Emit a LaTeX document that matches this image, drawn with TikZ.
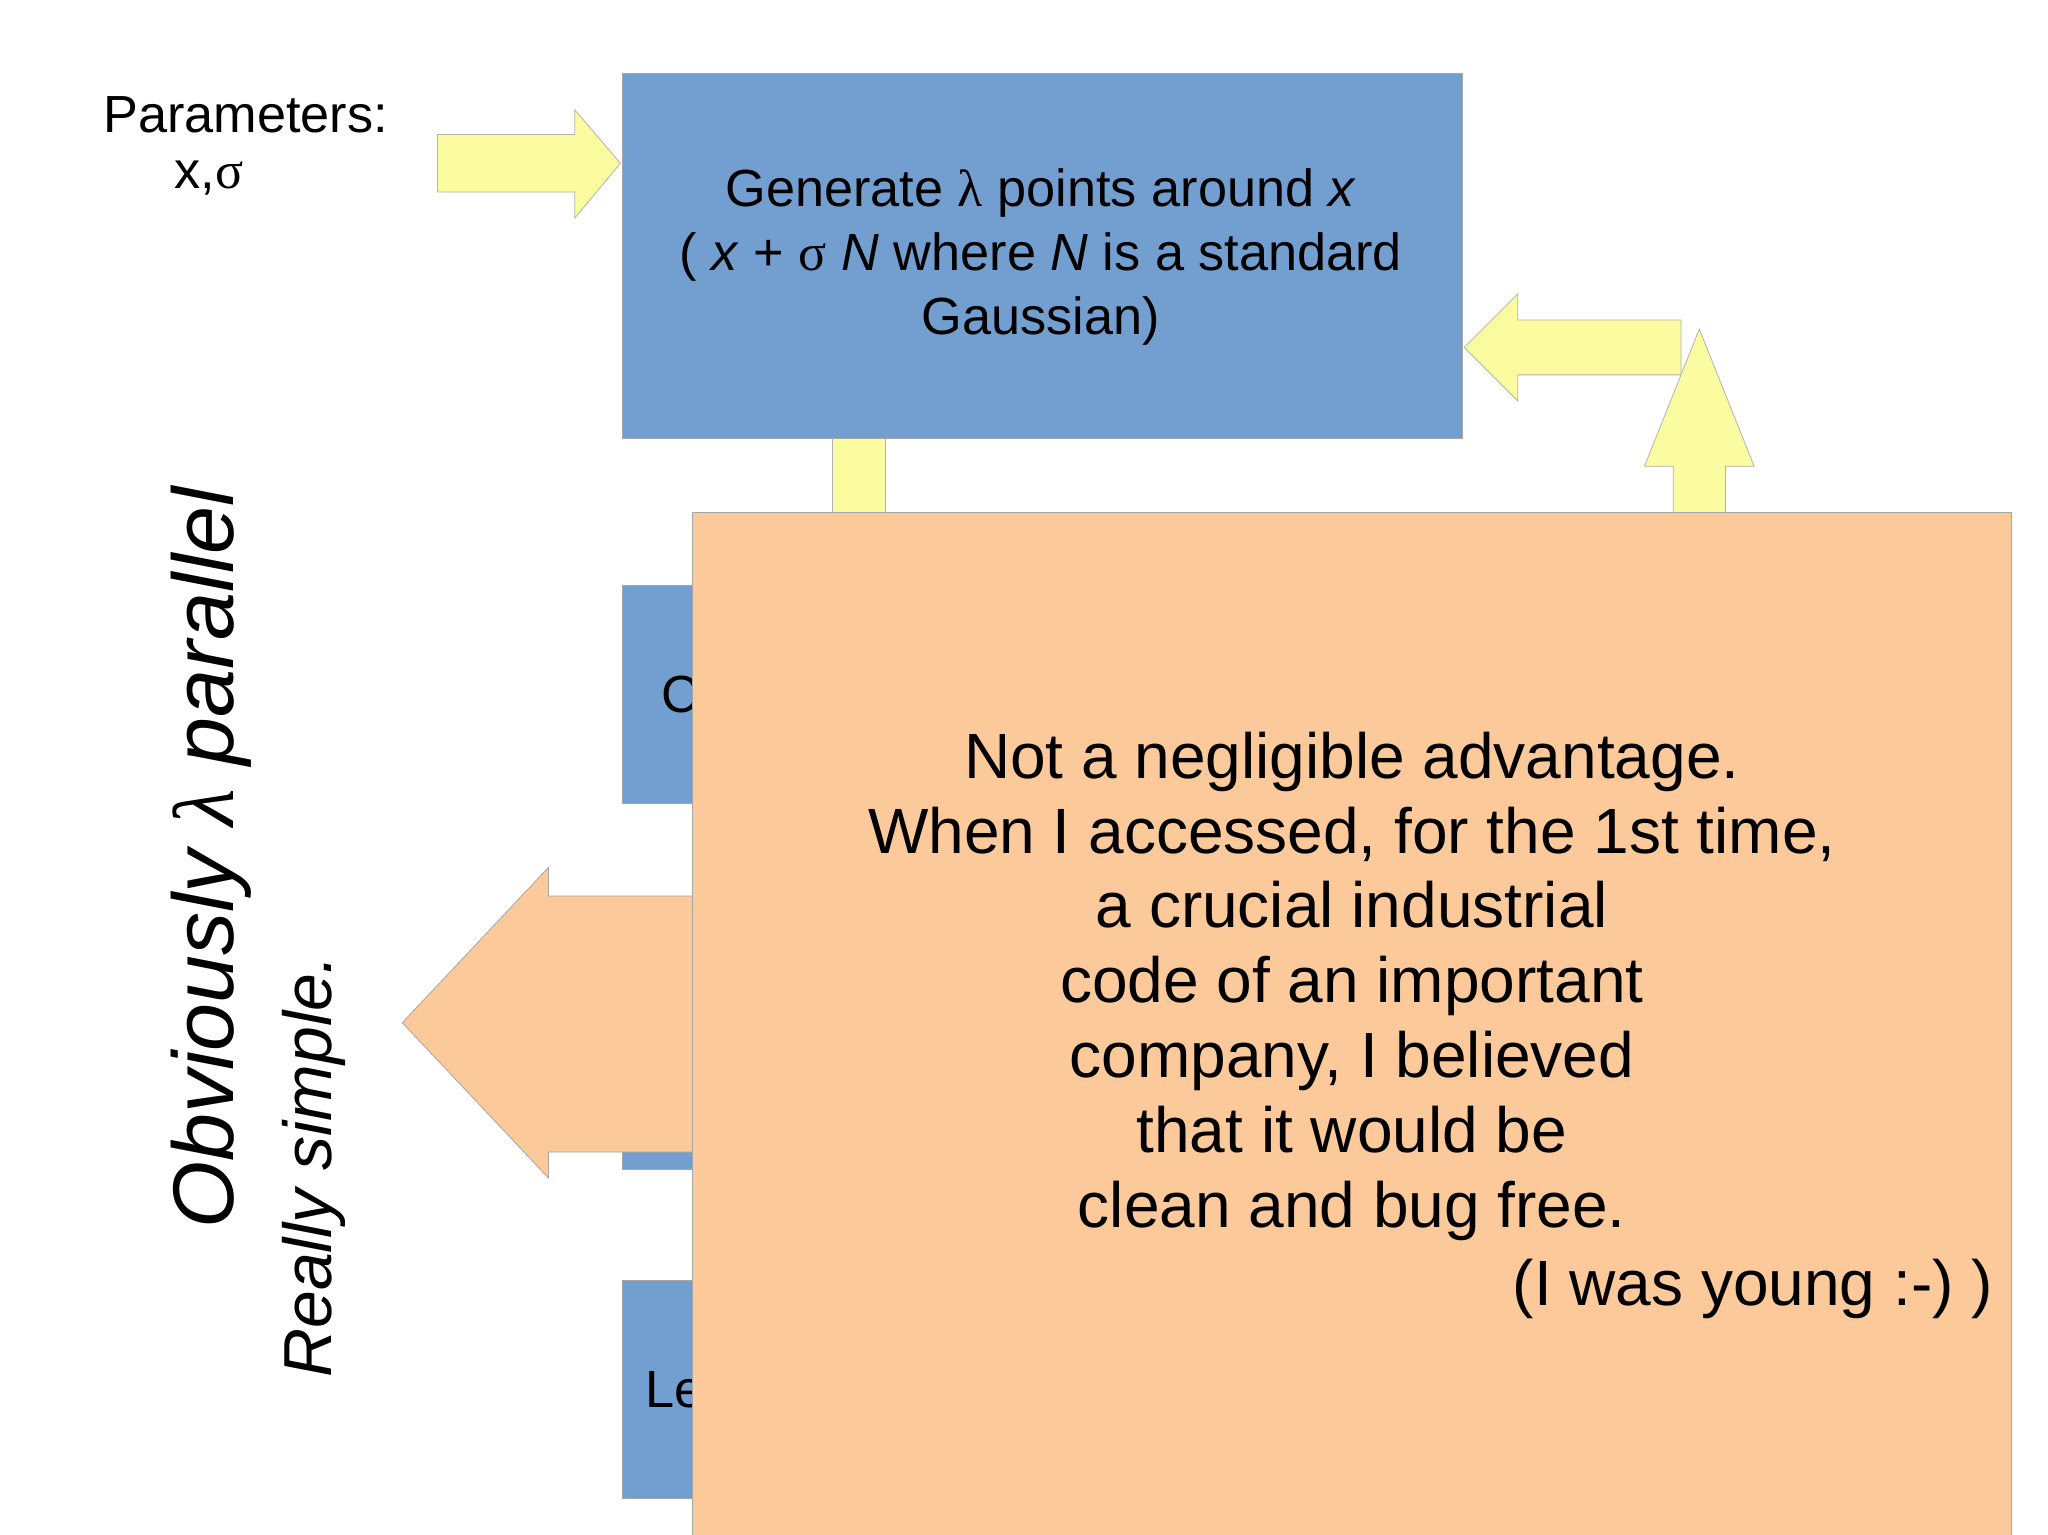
\documentclass[tikz,border=0pt]{standalone}
\usepackage{fontspec}
\setmainfont{Liberation Sans}
\newfontfamily\serifgr{Liberation Serif}
\newcommand{\gl}{{\serifgr λ}}
\newcommand{\gs}{{\serifgr σ}}
\begin{document}
\begin{tikzpicture}[x=1pt,y=-1pt,
  yel/.style={fill=yellow!40!white, draw=gray!60, line width=0.6pt},
  blu/.style={fill=blue!30!cyan!40!gray!90, draw=gray!70, line width=0.6pt},
  org/.style={fill=orange!45!white, draw=gray!70, line width=0.6pt},
  txt/.style={inner sep=0pt, align=center, text=black}]
\definecolor{bl}{HTML}{729FCF}
\definecolor{og}{HTML}{FCC99B}
\definecolor{ye}{HTML}{FBFBA0}
\tikzset{yel/.style={fill=ye, draw=gray!60, line width=0.6pt},
  blu/.style={fill=bl, draw=gray!70, line width=0.6pt},
  org/.style={fill=og, draw=gray!70, line width=0.6pt}}
\useasboundingbox (0,0) rectangle (1568,1175);
\fill[white] (0,0) rectangle (1568,1175);
% labels
\node[txt, font=\fontsize{40}{48}\selectfont] (par) at (188,88) {Parameters:};
\node[txt, font=\fontsize{40}{48}\selectfont] (xs) at (160,136) {x,\gs};
% yellow arrow right
\draw[yel] (335,103) -- (440,103) -- (440,84) -- (475,125) -- (440,167) -- (440,147) -- (335,147) -- cycle;
% yellow shafts
\draw[yel] (637,330) rectangle (678,395);
\draw[yel] (1287,245) -- (1162,245) -- (1162,225) -- (1121,266) -- (1162,307) -- (1162,287) -- (1287,287) -- cycle;
\draw[yel] (1281,395) -- (1281,357) -- (1259,357) -- (1301,252) -- (1343,357) -- (1321,357) -- (1321,395) -- cycle;
% top blue box
\node[blu, minimum width=643, minimum height=279, anchor=north west, inner sep=0] (gen) at (476,56) {};
\node[txt, font=\fontsize{40}{49}\selectfont] (gentxt) at (797,197) {Generate \gl\ points around \textit{x}\\( \textit{x} + \gs\ \textit{N} where \textit{N} is a standard\\Gaussian)};
% lower blue boxes
\node[blu, minimum width=80, minimum height=167, anchor=north west, inner sep=0] (b2) at (476,448) {};
\node[txt, font=\fontsize{40}{48}\selectfont, anchor=west] (c) at (506,532) {C};
\node[blu, minimum width=80, minimum height=167, anchor=north west, inner sep=0] (b3) at (476,728) {};
\node[blu, minimum width=80, minimum height=167, anchor=north west, inner sep=0] (b4) at (476,980) {};
\node[txt, font=\fontsize{40}{48}\selectfont, anchor=west] (le) at (494,1064) {Le};
% orange arrow
\draw[org] (545,686) -- (420,686) -- (420,664) -- (308,783) -- (420,902) -- (420,882) -- (545,882) -- cycle;
% orange box
\node[org, minimum width=1010, minimum height=800, anchor=north west, inner sep=0] (ob) at (530,392) {};
\node[txt, font=\fontsize{49}{57.3}\selectfont] (obt) at (1035,755) {Not a negligible advantage.\\When I accessed, for the 1st time,\\a crucial industrial\\code of an important\\company, I believed\\that it would be\\clean and bug free.};
\node[txt, font=\fontsize{49}{57}\selectfont, anchor=east] (young) at (1526,987) {(I was young :-) )};
% rotated texts
\node[txt, rotate=90, font=\fontsize{66}{70}\selectfont\itshape] (obv) at (162,657) {Obviously \gl\ parallel};
\node[txt, rotate=90, font=\fontsize{52}{60}\selectfont\itshape] (rs) at (240,893) {Really simple.};
\end{tikzpicture}
\end{document}
